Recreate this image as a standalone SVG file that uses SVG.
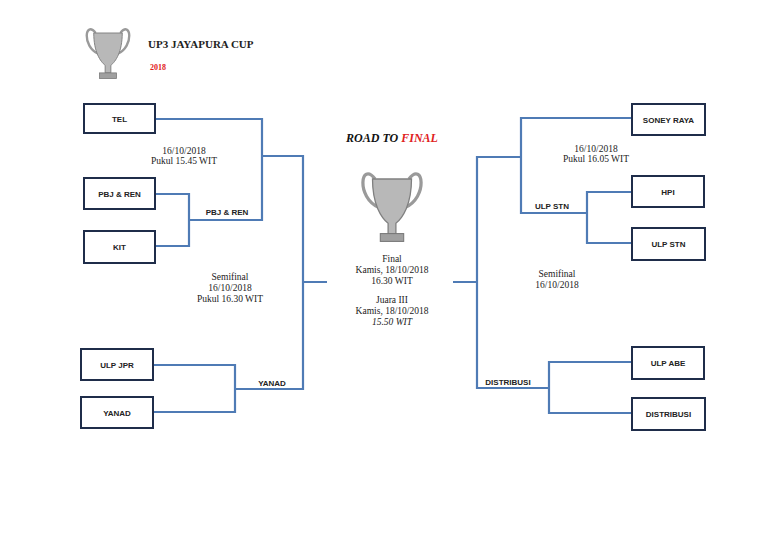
<svg xmlns="http://www.w3.org/2000/svg" width="768" height="543" viewBox="0 0 768 543">
<style>
.box{fill:#fff;stroke:#1f2d4a;stroke-width:2}
.ln{fill:none;stroke:#4f7bb5;stroke-width:2.2}
.b{font-family:"Liberation Sans",Arial,sans-serif;font-weight:bold;font-size:8px;fill:#222;text-anchor:middle}
.s{font-family:"Liberation Serif","Times New Roman",serif;font-size:9.5px;fill:#222;text-anchor:middle}
</style>
<defs>
<g id="trophy">
<path d="M-13,-20 C-24,-34 -28,-6 -10,2 M13,-20 C24,-34 28,-6 10,2" fill="none" stroke="#9a9a9a" stroke-width="2.5"/>
<path d="M-15,-20 L15,-20 C15,0 8,10 3,14 L3,22 L-3,22 L-3,14 C-8,10 -15,0 -15,-20 Z" fill="#b8b8b8" stroke="#808080" stroke-width="1"/>
<rect x="-9" y="22" width="18" height="6" fill="#a0a0a0" stroke="#777" stroke-width="0.8"/>
</g>
</defs>
<rect width="768" height="543" fill="#fff"/>
<use href="#trophy" transform="translate(108,52) scale(0.95)"/>
<text x="148" y="48" font-family="Liberation Serif,serif" font-weight="bold" font-size="11" fill="#222">UP3 JAYAPURA CUP</text>
<text x="150" y="70" font-family="Liberation Serif,serif" font-weight="bold" font-size="8" fill="#e02020">2018</text>
<text x="392" y="142" text-anchor="middle" font-family="Liberation Serif,serif" font-weight="bold" font-style="italic" font-size="12" fill="#111">ROAD TO <tspan fill="#e02020">FINAL</tspan></text>
<use href="#trophy" transform="translate(392,205) scale(1.3)"/>
<g id="connectors">
<path class="ln" d="M155,119 H262 V220 H189 M155,194 H189 V246 H155 M262,156 H303 V389 H235 M153,365 H235 V412 H153 M303,282 H327"/>
<path class="ln" d="M632,118 H521 V213 H587 M632,192 H587 V243 H632 M521,157 H477 V388 H549 M632,362 H549 V413 H632 M477,282 H453"/>
</g>
<g id="n-tel"><rect class="box" x="84" y="104" width="71" height="29"/><text class="b" x="119.5" y="122">TEL</text></g>
<g id="n-pbj"><rect class="box" x="84" y="178" width="71" height="31"/><text class="b" x="119.5" y="197">PBJ &amp; REN</text></g>
<g id="n-kit"><rect class="box" x="84" y="231" width="71" height="32"/><text class="b" x="119.5" y="250">KIT</text></g>
<g id="n-ulpjpr"><rect class="box" x="81" y="349" width="72" height="31"/><text class="b" x="117" y="368">ULP JPR</text></g>
<g id="n-yanad"><rect class="box" x="81" y="397" width="72" height="31"/><text class="b" x="117" y="416">YANAD</text></g>
<g id="n-soney"><rect class="box" x="632" y="104" width="73" height="31"/><text class="b" x="668.5" y="123">SONEY RAYA</text></g>
<g id="n-hpi"><rect class="box" x="632" y="176" width="72" height="31"/><text class="b" x="668" y="195">HPI</text></g>
<g id="n-ulpstn"><rect class="box" x="632" y="228" width="73" height="32" stroke-width="2.6"/><text class="b" x="668.5" y="247">ULP STN</text></g>
<g id="n-ulpabe"><rect class="box" x="632" y="347" width="72" height="32"/><text class="b" x="668" y="366">ULP ABE</text></g>
<g id="n-dist"><rect class="box" x="632" y="398" width="73" height="32"/><text class="b" x="668.5" y="417">DISTRIBUSI</text></g>
<text class="b" x="227" y="215">PBJ &amp; REN</text>
<text class="b" x="272" y="386">YANAD</text>
<text class="b" x="552" y="209">ULP STN</text>
<text class="b" x="508" y="385">DISTRIBUSI</text>
<text class="s" x="184" y="154">16/10/2018</text>
<text class="s" x="184" y="164">Pukul  15.45 WIT</text>
<text class="s" x="230" y="280">Semifinal</text>
<text class="s" x="230" y="291">16/10/2018</text>
<text class="s" x="230" y="302">Pukul 16.30 WIT</text>
<text class="s" x="596" y="152">16/10/2018</text>
<text class="s" x="596" y="162">Pukul 16.05 WIT</text>
<text class="s" x="557" y="277">Semifinal</text>
<text class="s" x="557" y="288">16/10/2018</text>
<text class="s" x="392" y="262">Final</text>
<text class="s" x="392" y="273">Kamis, 18/10/2018</text>
<text class="s" x="392" y="284">16.30  WIT</text>
<text class="s" x="392" y="303">Juara III</text>
<text class="s" x="392" y="314">Kamis, 18/10/2018</text>
<text class="s" x="392" y="325" font-style="italic">15.50  WIT</text>
</svg>
